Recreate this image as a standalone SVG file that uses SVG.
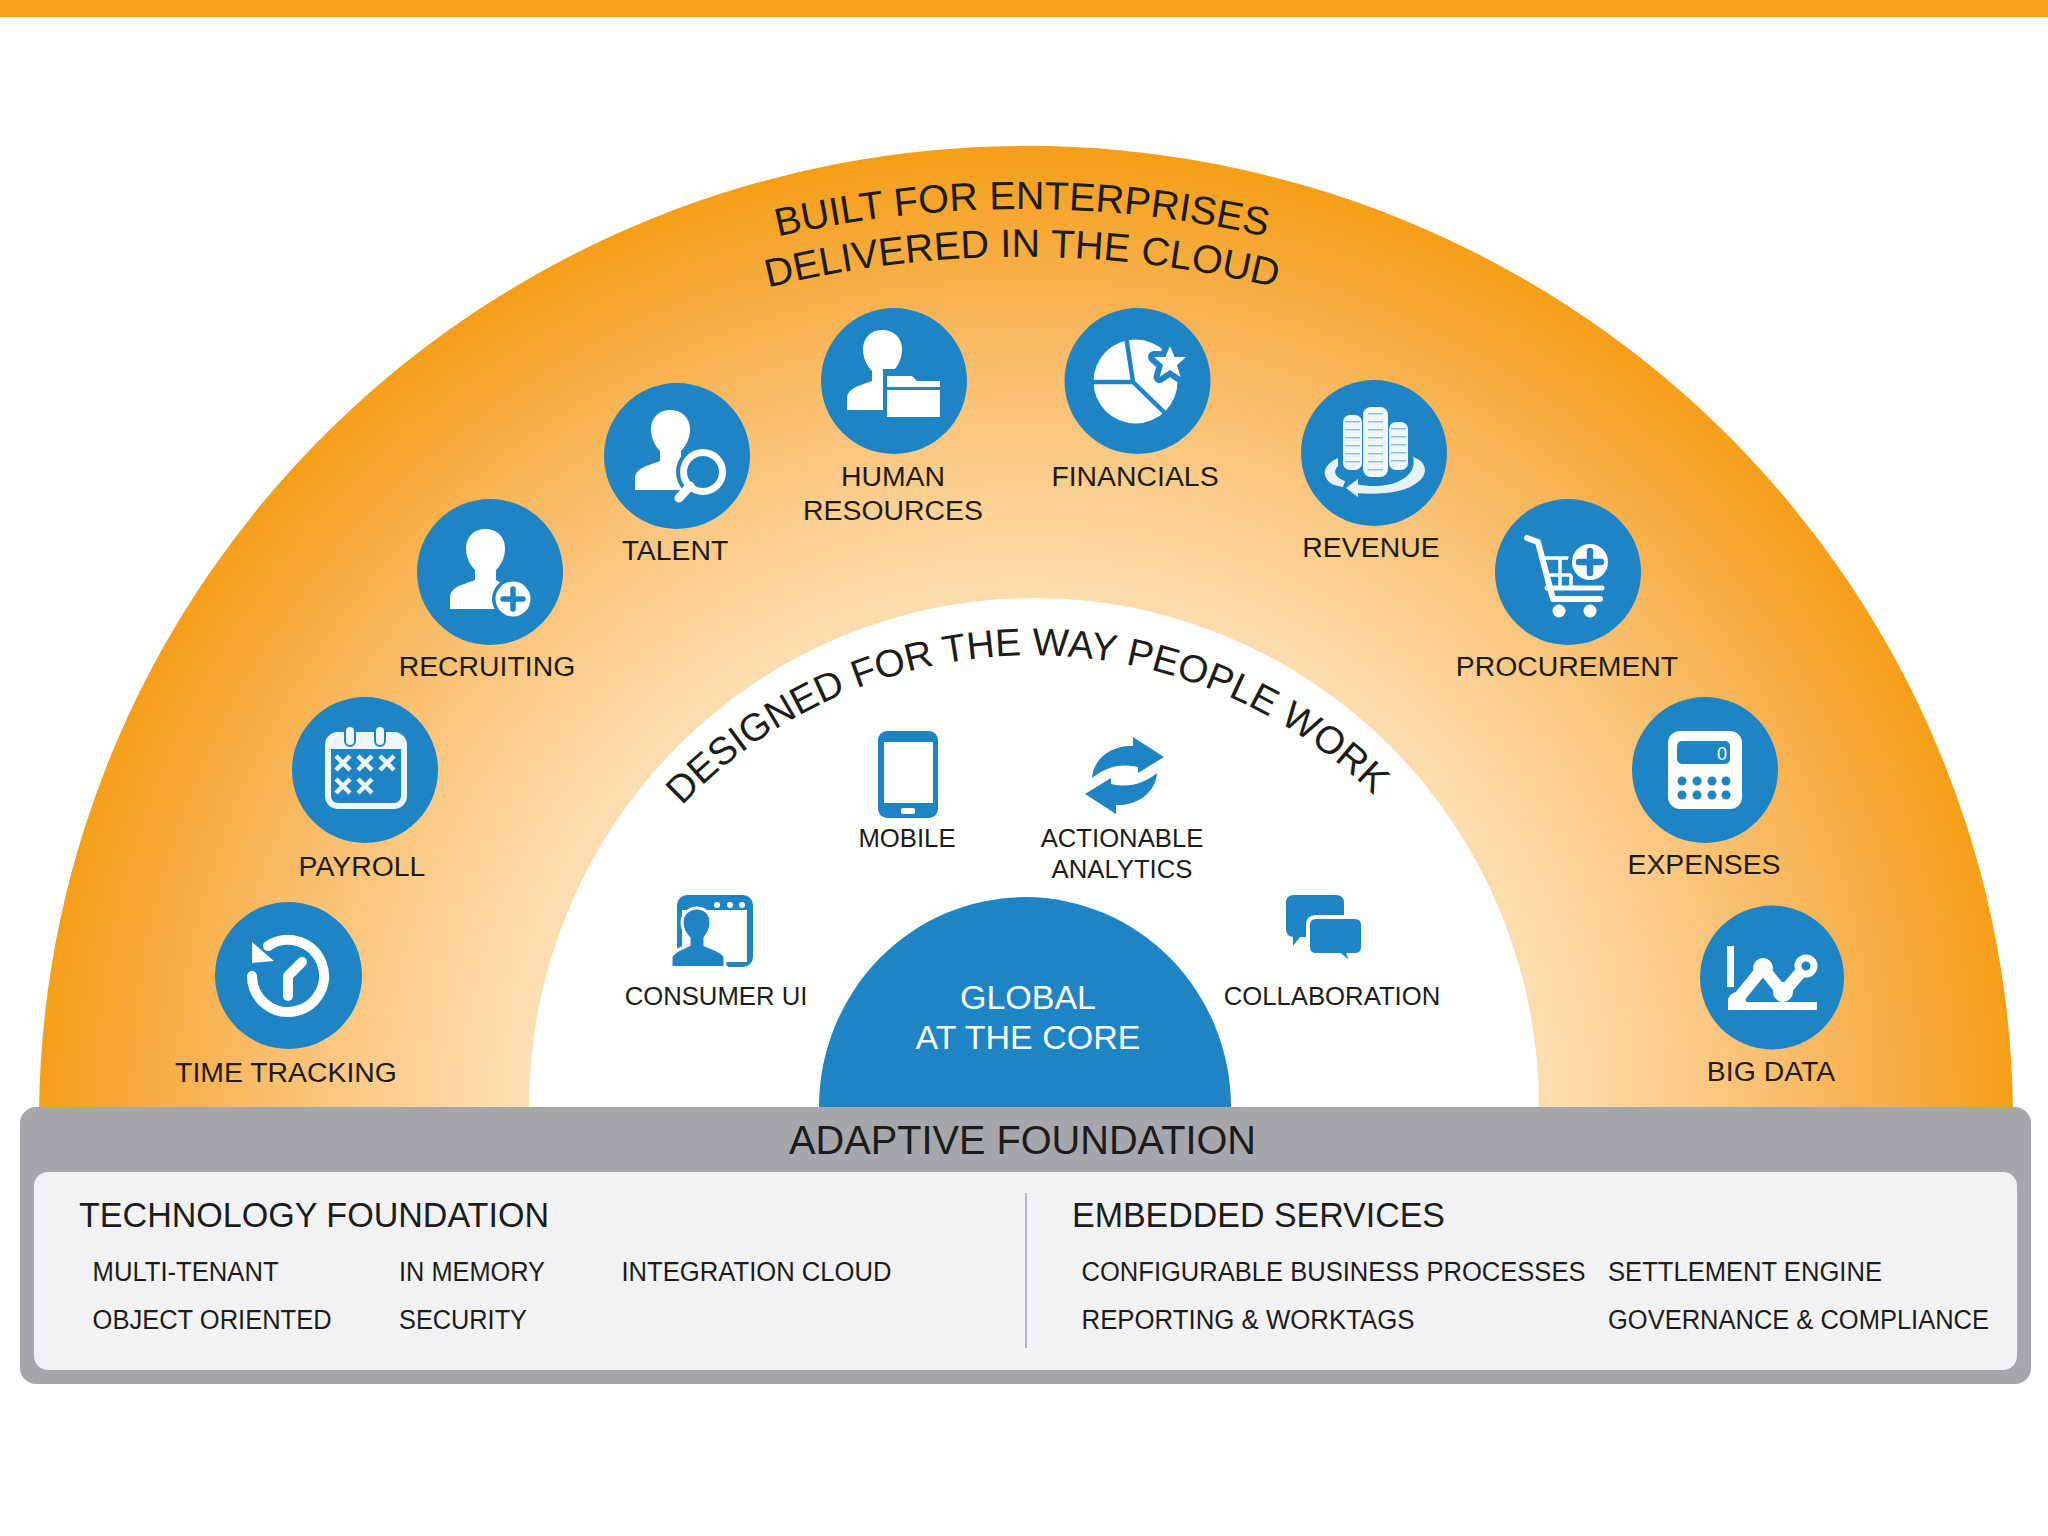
<svg xmlns="http://www.w3.org/2000/svg" xmlns:xlink="http://www.w3.org/1999/xlink" width="2048" height="1536" viewBox="0 0 2048 1536">
<style>
text{font-family:"Liberation Sans",Arial,sans-serif;fill:#1c1c1a}
.l{font-size:28.4px;text-anchor:middle}
.i{font-size:25.7px;text-anchor:middle}
.s{font-size:27px}
.h{font-size:35px}
.c{font-size:39.500px}
.d{font-size:38.600px}
.g{font-size:34px;text-anchor:middle;fill:#fff}
.b{fill:#1f84c3}
.w{fill:#fff}
.sw{fill:none;stroke:#fff;stroke-linecap:round;stroke-linejoin:round}
.sb{fill:none;stroke:#1f84c3;stroke-linecap:round}
</style>
<defs>
<radialGradient id="ring" gradientUnits="userSpaceOnUse" cx="0" cy="0" r="1" gradientTransform="translate(1026 1107) scale(987 961)">
<stop offset="0.5" stop-color="#fddfb5"/>
<stop offset="0.62" stop-color="#fcd297"/>
<stop offset="0.78" stop-color="#f9bc68"/>
<stop offset="0.9" stop-color="#f7ab3d"/>
<stop offset="1" stop-color="#f59e18"/>
</radialGradient>
<path id="person" d="M-40 37V26C-40 15-28 13-15 8V-2C-21-8-24-16-24-24C-24-36-15-43-5-43C6-43 15-36 15-24C15-16 12-8 6-2V8C12 12 18 14 24 17V37Z"/>
<path id="star" d="M1170 346L1174.500 357L1186 357L1177 365L1180.500 377L1170 370L1159.500 377L1163 365L1154 357L1165.500 357Z"/>
<path id="arc1" d="M722 250.800A1098 1098 0 0 1 1322 250.800"/>
<path id="arc2" d="M722 300A1065 1065 0 0 1 1322 300"/>
<path id="arc3" d="M605.900 910.500A485 485 0 0 1 1445.600 885.500"/>
</defs>
<rect width="2048" height="1536" fill="#fff"/>
<rect width="2048" height="17" fill="#f7a11f"/>
<g id="dome">
<path d="M39.100 1107A987 975 0 0 1 2012.900 1107Z" fill="url(#ring)"/>
<path d="M529 1107A505 509 0 0 1 1539 1107Z" fill="#fff"/>
<path d="M819 1107A206 210 0 0 1 1231 1107Z" class="b"/>
</g>
<g id="headline">
<text class="c" text-anchor="middle"><textPath xlink:href="#arc1" href="#arc1" startOffset="50%">BUILT FOR ENTERPRISES</textPath></text>
<text class="c" text-anchor="middle"><textPath xlink:href="#arc2" href="#arc2" startOffset="50%">DELIVERED IN THE CLOUD</textPath></text>
</g>
<g id="subhead">
<text class="d" text-anchor="middle"><textPath xlink:href="#arc3" href="#arc3" startOffset="50.700%">DESIGNED FOR THE WAY PEOPLE WORK</textPath></text>
</g>
<g id="time-tracking">
<circle cx="288.500" cy="975.500" r="73.500" class="b"/>
<path d="M252 976A36 36 0 1 0 268 946" class="sw" stroke-width="10"/>
<path d="M252 942L274 961L252 963Z" class="w"/>
<path d="M288 996V976L302 962" class="sw" stroke-width="10"/>
<text class="l" x="286" y="1082">TIME TRACKING</text>
</g>
<g id="payroll">
<circle cx="365" cy="770" r="73" class="b"/>
<rect x="328" y="735" width="76" height="71" rx="10" fill="#1f84c3" stroke="#eef6fb" stroke-width="6"/>
<path d="M328 747V742Q328 735 335 735H397Q404 735 404 742V749H328Z" fill="#eef6fb"/>
<rect x="345" y="726" width="10" height="20" rx="5" fill="#eef6fb" stroke="#1f84c3" stroke-width="2"/>
<rect x="375" y="726" width="10" height="20" rx="5" fill="#eef6fb" stroke="#1f84c3" stroke-width="2"/>
<path d="M336 756l14 14m0-14l-14 14M358 756l14 14m0-14l-14 14M380 756l14 14m0-14l-14 14M336 779l14 14m0-14l-14 14M358 779l14 14m0-14l-14 14" fill="none" stroke="#eef6fb" stroke-width="4.500"/>
<text class="l" x="362" y="876">PAYROLL</text>
</g>
<g id="recruiting">
<circle cx="490" cy="572" r="73" class="b"/>
<use href="#person" x="490" y="572" class="w"/>
<circle cx="513" cy="599" r="21" class="b"/>
<circle cx="513" cy="599" r="17.500" class="w"/>
<path d="M513 589V609M503 599H523" class="sb" stroke-width="5.500" stroke-linecap="butt"/>
<text class="l" x="487" y="676">RECRUITING</text>
</g>
<g id="talent">
<circle cx="677" cy="456" r="73" class="b"/>
<use href="#person" x="675" y="453" class="w"/>
<circle cx="703" cy="472" r="27" class="b"/>
<circle cx="703" cy="472" r="19.500" fill="none" stroke="#fff" stroke-width="7"/>
<path d="M690 486L679 498" class="sw" stroke-width="9"/>
<text class="l" x="675" y="560">TALENT</text>
</g>
<g id="human-resources">
<circle cx="894" cy="381" r="73" class="b"/>
<use href="#person" x="887" y="373" class="w"/>
<rect x="883" y="369" width="64" height="53" class="b"/>
<path d="M887 376H912L917 381H940V387H887ZM887 390H940V417H887Z" class="w"/>
<text class="l" x="893" y="486">HUMAN</text>
<text class="l" x="893" y="520">RESOURCES</text>
</g>
<g id="financials">
<circle cx="1137.500" cy="381" r="73" class="b"/>
<circle cx="1135.500" cy="381.500" r="42" class="w"/>
<use href="#star" fill="#1f84c3" stroke="#1f84c3" stroke-width="12" stroke-linejoin="round"/>
<path d="M1090 382H1133L1126 336M1133 382L1168 416" fill="none" stroke="#1f84c3" stroke-width="4.500"/>
<use href="#star" class="w"/>
<text class="l" x="1135" y="486">FINANCIALS</text>
</g>
<g id="revenue">
<circle cx="1374" cy="453" r="73" class="b"/>
<rect x="1343" y="415" width="19" height="55" rx="7" fill="#f0f7fb"/>
<rect x="1363" y="407" width="25" height="70" rx="8" fill="#f0f7fb"/>
<rect x="1389" y="422" width="19" height="48" rx="7" fill="#f0f7fb"/>
<path d="M1352.500 421V466M1375.500 413V473M1398.500 428V466" fill="none" stroke="#8fc0df" stroke-width="15" stroke-dasharray="1.500 6.500"/>
<path d="M1355 484C1385 490 1405 482 1412 470C1414 465 1414 460 1413 457C1428 462 1428 475 1418 482C1405 493 1380 495 1355 493Z" fill="#e6f1f8"/>
<path d="M1338 458C1328 462 1322 470 1326 478C1329 484 1336 486 1343 487L1345 481C1336 478 1332 472 1338 466Z" fill="#e6f1f8"/>
<path d="M1346 488L1358 479V497Z" fill="#e6f1f8"/>
<text class="l" x="1371" y="557">REVENUE</text>
</g>
<g id="procurement">
<circle cx="1568" cy="572" r="73" class="b"/>
<path d="M1527 538L1538 542L1553 599H1600" class="sw" stroke-width="6"/>
<path d="M1547 588H1602" class="sw" stroke-width="5"/>
<path d="M1543 558H1572M1560 558V588M1548 575H1572M1571 575V588" fill="none" stroke="#fff" stroke-width="3.500"/>
<circle cx="1590" cy="562" r="22" class="b"/>
<circle cx="1590" cy="562" r="18" class="w"/>
<path d="M1590 551V573M1579 562H1601" class="sb" stroke-width="6.500" stroke-linecap="butt"/>
<circle cx="1559" cy="611" r="6.500" class="w"/>
<circle cx="1590" cy="611" r="6.500" class="w"/>
<text class="l" x="1567" y="676">PROCUREMENT</text>
</g>
<g id="expenses">
<circle cx="1705" cy="770" r="73" class="b"/>
<rect x="1668" y="731" width="74" height="78" rx="12" class="w"/>
<rect x="1677" y="741" width="53" height="23" rx="5" class="b"/>
<text x="1722" y="760" font-size="18" text-anchor="middle" style="fill:#fff">0</text>
<g class="b">
<circle cx="1682" cy="781" r="4.500"/><circle cx="1697" cy="781" r="4.500"/><circle cx="1712" cy="781" r="4.500"/><circle cx="1726" cy="781" r="4.500"/>
<circle cx="1682" cy="795" r="4.500"/><circle cx="1697" cy="795" r="4.500"/><circle cx="1712" cy="795" r="4.500"/><circle cx="1726" cy="795" r="4.500"/>
</g>
<text class="l" x="1704" y="874">EXPENSES</text>
</g>
<g id="big-data">
<circle cx="1772" cy="977.500" r="72" class="b"/>
<rect x="1727" y="946" width="7" height="41" class="w"/>
<rect x="1728" y="1002" width="89" height="8" class="w"/>
<path d="M1737 1000L1763 968L1783 993L1806 966" class="sw" stroke-width="12"/>
<circle cx="1737" cy="1001" r="9" class="w"/><circle cx="1763" cy="968" r="10" class="w"/><circle cx="1783" cy="992" r="10" class="w"/>
<circle cx="1806" cy="966" r="8" fill="#1f84c3" stroke="#fff" stroke-width="7"/>
<text class="l" x="1771" y="1081">BIG DATA</text>
</g>
<g id="mobile">
<rect x="878" y="731" width="60" height="87" rx="9" class="b"/>
<rect x="884" y="742" width="49" height="61" class="w"/>
<rect x="901" y="808" width="14" height="6" rx="2" class="w"/>
<text class="i" x="907" y="847">MOBILE</text>
</g>
<g id="actionable-analytics">
<path d="M1092 778C1093 760 1110 745 1133 746V737L1164 757L1138 773V767C1120 763 1106 767 1092 778Z" class="b"/>
<path d="M1092 778C1093 760 1110 745 1133 746V737L1164 757L1138 773V767C1120 763 1106 767 1092 778Z" class="b" transform="rotate(180 1124.500 775.500)"/>
<text class="i" x="1122" y="847">ACTIONABLE</text>
<text class="i" x="1122" y="878">ANALYTICS</text>
</g>
<g id="consumer-ui">
<rect x="677" y="895" width="76" height="72" rx="10" class="b"/>
<rect x="682" y="910" width="65" height="52" class="w"/>
<circle cx="717" cy="905" r="3" class="w"/><circle cx="730" cy="905" r="3" class="w"/><circle cx="742" cy="905" r="3" class="w"/>
<path d="M671 969V958C671 951 683 948 689 945V938C684 933 682 928 682 922C682 914 689 908 697 908C705 908 711 914 711 922C711 928 709 933 705 938V945C711 948 725 951 725 958V969Z" class="b" stroke="#fff" stroke-width="3"/>
<rect x="668" y="966" width="60" height="6" class="w"/>
<text class="i" x="716" y="1005">CONSUMER UI</text>
</g>
<g id="collaboration">
<path d="M1294 895H1336Q1344 895 1344 903V929Q1344 937 1336 937H1300L1293 946L1293 937Q1286 936 1286 929V903Q1286 895 1294 895Z" class="b"/>
<path d="M1316 917H1355Q1363 917 1363 925V947Q1363 955 1355 955H1349L1353 966L1340 955H1316Q1308 955 1308 947V925Q1308 917 1316 917Z" class="b" stroke="#fff" stroke-width="4"/>
<text class="i" x="1332" y="1005">COLLABORATION</text>
</g>
<g id="global-core">
<text class="g" x="1028" y="1009">GLOBAL</text>
<text class="g" x="1028" y="1049">AT THE CORE</text>
</g>
<g id="foundation">
<rect x="20" y="1107" width="2011" height="277" rx="16" fill="#a5a7aa"/>
<rect x="34" y="1172" width="1983" height="198" rx="14" fill="#f2f2f4"/>
<rect x="1025" y="1193" width="2" height="155" fill="#b4b5b8"/>
<text x="1022.500" y="1154" font-size="40" text-anchor="middle" textLength="467" lengthAdjust="spacingAndGlyphs">ADAPTIVE FOUNDATION</text>
<text class="h" x="79" y="1227" textLength="470" lengthAdjust="spacingAndGlyphs">TECHNOLOGY FOUNDATION</text>
<text class="h" x="1072" y="1227" textLength="373" lengthAdjust="spacingAndGlyphs">EMBEDDED SERVICES</text>
<text class="s" x="92.600" y="1281" textLength="186" lengthAdjust="spacingAndGlyphs">MULTI-TENANT</text>
<text class="s" x="92.600" y="1329" textLength="239" lengthAdjust="spacingAndGlyphs">OBJECT ORIENTED</text>
<text class="s" x="399" y="1281" textLength="146" lengthAdjust="spacingAndGlyphs">IN MEMORY</text>
<text class="s" x="399" y="1329" textLength="128" lengthAdjust="spacingAndGlyphs">SECURITY</text>
<text class="s" x="621.500" y="1281" textLength="270" lengthAdjust="spacingAndGlyphs">INTEGRATION CLOUD</text>
<text class="s" x="1081.500" y="1281" textLength="504" lengthAdjust="spacingAndGlyphs">CONFIGURABLE BUSINESS PROCESSES</text>
<text class="s" x="1081.500" y="1329" textLength="333" lengthAdjust="spacingAndGlyphs">REPORTING &amp; WORKTAGS</text>
<text class="s" x="1608" y="1281" textLength="274" lengthAdjust="spacingAndGlyphs">SETTLEMENT ENGINE</text>
<text class="s" x="1608" y="1329" textLength="381" lengthAdjust="spacingAndGlyphs">GOVERNANCE &amp; COMPLIANCE</text>
</g>
</svg>
